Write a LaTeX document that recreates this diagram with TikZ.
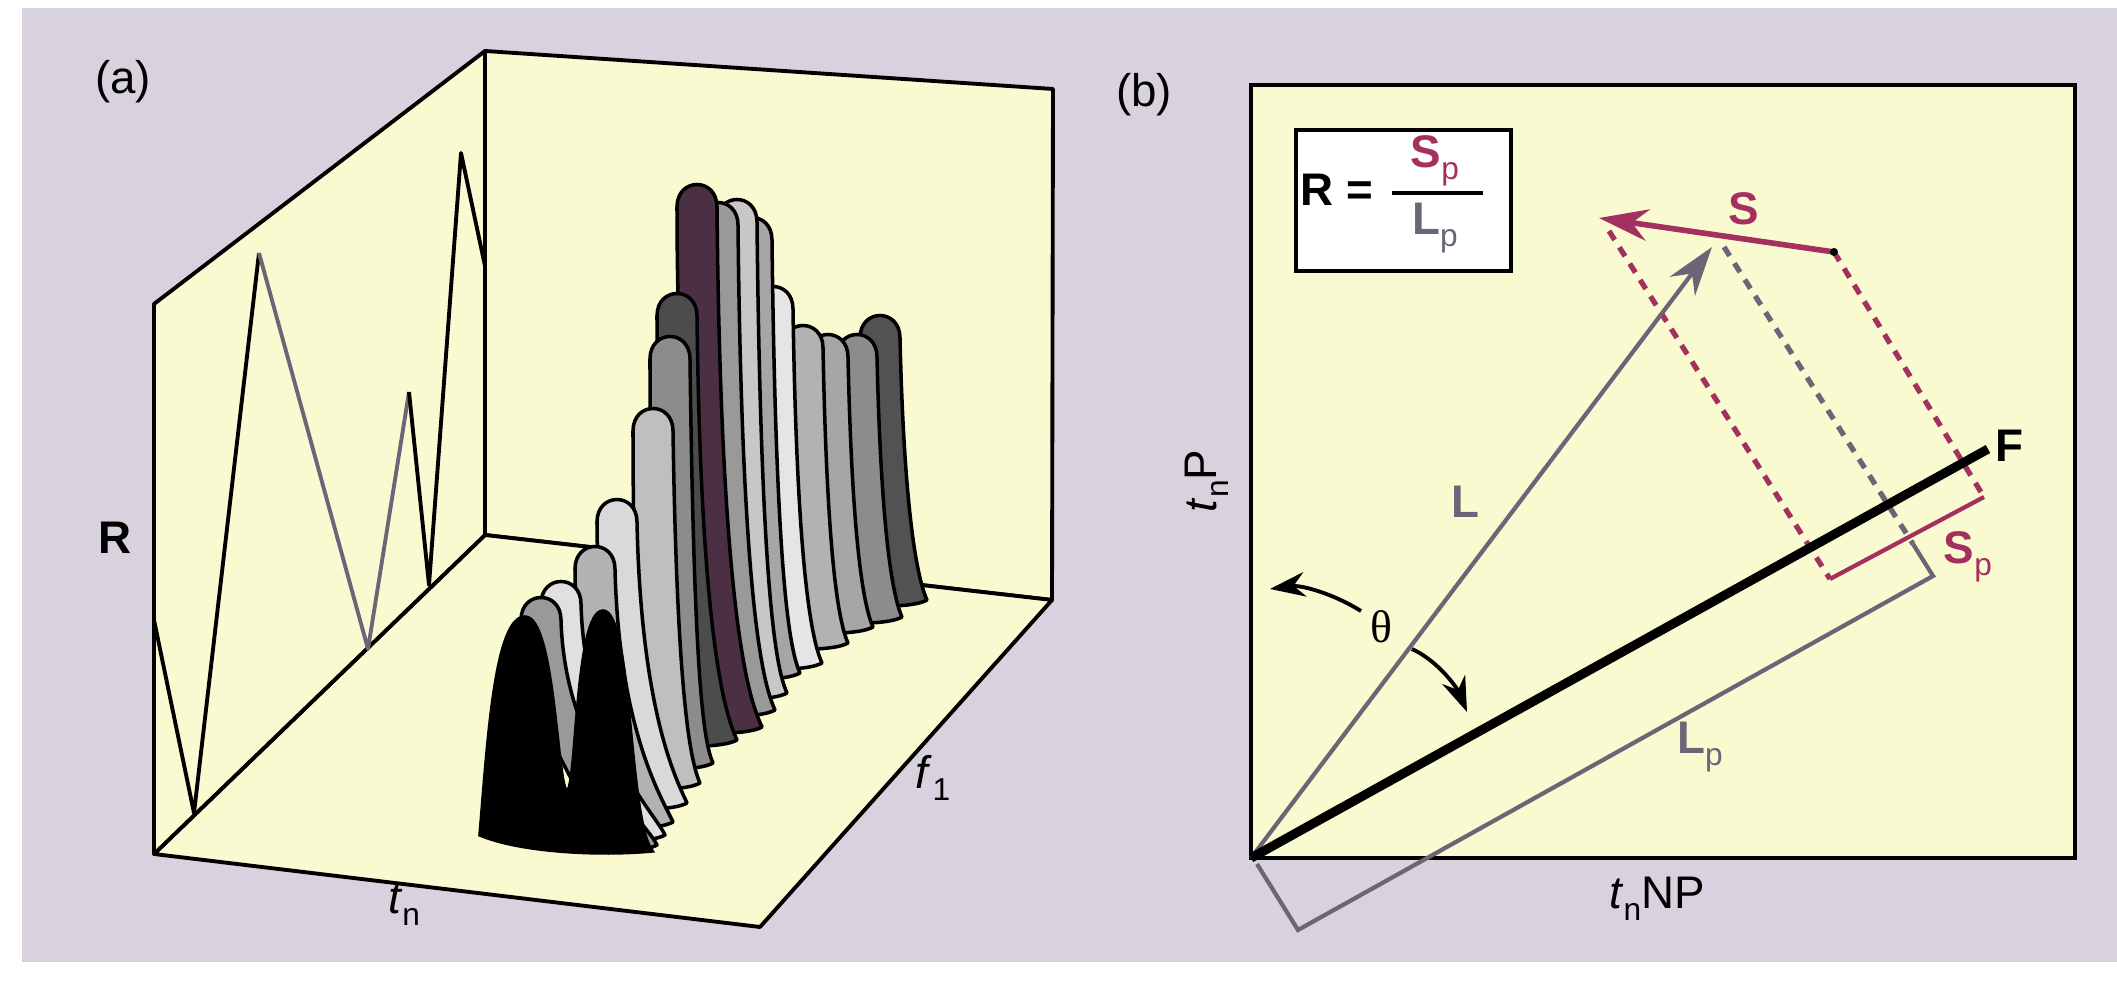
\documentclass[tikz,border=0pt]{standalone}
\usepackage{fontspec}
\setmainfont{Liberation Sans}
\newfontfamily\serifgr{Liberation Serif}
\usetikzlibrary{arrows.meta}
\definecolor{lav}{HTML}{D8D2DE}
\definecolor{pale}{HTML}{FAFAD0}
\definecolor{crim}{HTML}{A3305E}
\definecolor{gpur}{HTML}{6E6478}
\definecolor{dpur}{HTML}{4A3042}
\newcommand\ridge[5]{%
 \pgfmathsetmacro\ra{#2-20}\pgfmathsetmacro\rb{#2+20}%
 \pgfmathsetmacro\rc{#3+22}\pgfmathsetmacro\rd{#3-8}%
 \pgfmathsetmacro\re{#2+24}\pgfmathsetmacro\rf{#5-90}%
 \pgfmathsetmacro\rg{#4-10}\pgfmathsetmacro\rh{#5-22}%
 \pgfmathsetmacro\ri{#4-55}\pgfmathsetmacro\rj{#5+6}%
 \pgfmathsetmacro\rk{#4-14}\pgfmathsetmacro\rl{#5+8}%
 \pgfmathsetmacro\rm{#4-60}\pgfmathsetmacro\rn{#5-40}%
 \pgfmathsetmacro\ro{(#3+#5)/2}%
 \filldraw[fill=#1,draw=black,line width=1pt,line join=round]
  (\ra,\rc) .. controls (\ra,\rd) and (\rb,\rd) .. (\rb,\rc)
  .. controls (\re,\rf) and (\rg,\rh) .. (#4,#5)
  .. controls (\rk,\rl) and (\ri,\rj) .. (\ri,\rj)
  .. controls (\rm,\rn) and (\ra,\ro) .. (\ra,\rc) -- cycle;}
\tikzset{wall/.style={fill=pale,draw=black,line width=1.1pt,line join=round},
 lbl/.style={font=\fontsize{13}{15}\selectfont},
 dashr/.style={draw=crim,line width=1.5pt,dash pattern=on 3pt off 2.5pt},
 dashg/.style={draw=gpur,line width=1.5pt,dash pattern=on 3pt off 2.5pt}}
\begin{document}
\begin{tikzpicture}[x=0.01cm,y=-0.01cm]
\useasboundingbox (0,0) rectangle (2117,992);
\fill[white] (0,0) rectangle (2117,992);
\fill[lav] (22,8) rectangle (2117,962);
% ---------- panel (a)
\node[lbl] (la) at (123,82) {(a)};
\coordinate (wTL) at (154,304); \coordinate (bTL) at (485,51);
\coordinate (bBL) at (485,535); \coordinate (wBL) at (154,854);
\coordinate (bTR) at (1053,89); \coordinate (bBR) at (1052,600);
\coordinate (fFR) at (760,927);
\draw[wall] (bTL) -- (bTR) -- (bBR) -- (bBL) -- cycle;
\draw[wall] (wBL) -- (bBL) -- (bBR) -- (fFR) -- cycle;
\draw[wall] (wTL) -- (bTL) -- (bBL) -- (wBL) -- cycle;
\draw[line width=1.1pt,line join=round] (154,620) -- (194,813) -- (259,253);
\draw[gpur,line width=1.1pt,line join=round] (259,253) -- (368,649) -- (409,392);
\draw[line width=1.1pt,line join=round] (409,392) -- (429,585) -- (461,153) -- (485,266);
\node[lbl,font=\bfseries\fontsize{13}{15}\selectfont] (lR) at (115,538) {R};
\node[lbl] (ltn) at (404,905) {\itshape t\/\upshape\raisebox{-0.5ex}{\small n}};
\node[lbl] (lf1) at (933,778) {\itshape f\/\upshape\raisebox{-0.5ex}{\small 1}};
% ridges back to front
\ridge{black!68}{880}{316}{927}{600}
\ridge{black!45}{857}{335}{902}{617}
\ridge{black!35}{828}{335}{873}{627}
\ridge{black!30}{803}{326}{848}{643}
\ridge{black!10}{773}{287}{822}{663}
\ridge{black!35}{752}{218}{800}{673}
\ridge{black!22}{737}{200}{787}{693}
\ridge{black!40}{718}{203}{775}{710}
\ridge{dpur}{697}{185}{762}{727}
\ridge{black!70}{677}{294}{737}{740}
\ridge{black!45}{670}{337}{713}{763}
\ridge{black!25}{653}{409}{700}{783}
\ridge{black!15}{617}{500}{687}{803}
\ridge{black!30}{595}{547}{673}{822}
\ridge{black!12}{561}{582}{665}{835}
\ridge{black!40}{541}{598}{657}{845}
\filldraw[fill=black,draw=black,line width=1pt]
 (480,835) .. controls (488,740) and (495,617) .. (525,617)
 .. controls (555,617) and (557,791) .. (567,791)
 .. controls (577,791) and (575,611) .. (603,611)
 .. controls (632,611) and (628,820) .. (652,851)
 .. controls (600,856) and (520,852) .. (480,835) -- cycle;
% ---------- panel (b)
\node[lbl] (lb) at (1144,95) {(b)};
\draw[fill=pale,draw=black,line width=1.1pt] (1251,85) rectangle (2075,858);
\coordinate (O) at (1251,858);
\node[draw=black,fill=white,line width=1pt,minimum width=2.15cm,minimum height=1.41cm] (fb) at (1403.5,200.5) {};
\node[lbl,font=\bfseries\fontsize{13}{15}\selectfont] (fR) at (1337,190) {R =};
\draw[line width=1.3pt] (1392,193) coordinate (fbarA) -- (1483,193) coordinate (fbarB);
\node[lbl,text=crim] (fS) at (1435,161) {\bfseries S\mdseries\raisebox{-0.5ex}{\small p}};
\node[lbl,text=gpur] (fL) at (1435,228) {\bfseries L\mdseries\raisebox{-0.5ex}{\small p}};
\coordinate (Ltip) at (1712,247);
\coordinate (Sstart) at (1834,252); \coordinate (Stip) at (1599,218);
\coordinate (Fend) at (1988,449);
\coordinate (Spa) at (1830,579); \coordinate (Spb) at (1984,497);
\coordinate (gA) at (1913,544);
\coordinate (Lpa) at (1298,930); \coordinate (Lpb) at (1933,576);
\coordinate (Lp0) at (1257,864);
\draw[dashr] (1609,231) -- (Spa);
\draw[dashr] (Sstart) -- (Spb);
\draw[dashg] (1724,247) -- (gA);
\draw[crim,line width=1.2pt] (Spa) -- (Spb);
\draw[gpur,line width=1.2pt,line join=miter] (Lp0) -- (Lpa) -- (Lpb) -- (gA);
\draw[gpur,line width=1.2pt,-{Stealth[length=14pt,width=9pt]}] (O) -- (Ltip);
\draw[black,line width=2.6pt] (O) -- (Fend);
\draw[crim,line width=1.6pt,-{Stealth[length=14pt,width=9pt]}] (Sstart) -- (Stip);
\fill[black] (Sstart) circle (4);
\node[lbl,text=crim,font=\bfseries\fontsize{13}{15}\selectfont] (lS) at (1744,209) {S};
\node[lbl,text=gpur,font=\bfseries\fontsize{13}{15}\selectfont] (lL) at (1465,502) {L};
\node[lbl,font=\bfseries\fontsize{13}{15}\selectfont] (lF) at (2009,446) {F};
\node[lbl,text=crim] (lSp) at (1968,557) {\bfseries S\mdseries\raisebox{-0.5ex}{\small p}};
\node[lbl,text=gpur] (lLp) at (1700,747) {\bfseries L\mdseries\raisebox{-0.5ex}{\small p}};
\node[lbl] (lth) at (1381,627) {\serifgr θ};
\coordinate (a1s) at (1361,611); \coordinate (a1e) at (1270,589);
\coordinate (a2s) at (1412,649); \coordinate (a2e) at (1467,712);
\draw[line width=1.1pt,-{Stealth[length=10pt,width=7pt]}] (a1s) .. controls (1330,592) and (1300,585) .. (a1e);
\draw[line width=1.1pt,-{Stealth[length=10pt,width=7pt]}] (a2s) .. controls (1440,662) and (1458,690) .. (a2e);
\node[lbl,rotate=90] (ltP) at (1207,481) {\itshape t\/\upshape\raisebox{-0.5ex}{\small n}P};
\node[lbl] (ltNP) at (1657,899) {\itshape t\/\upshape\raisebox{-0.5ex}{\small n}NP};
\end{tikzpicture}
\end{document}
